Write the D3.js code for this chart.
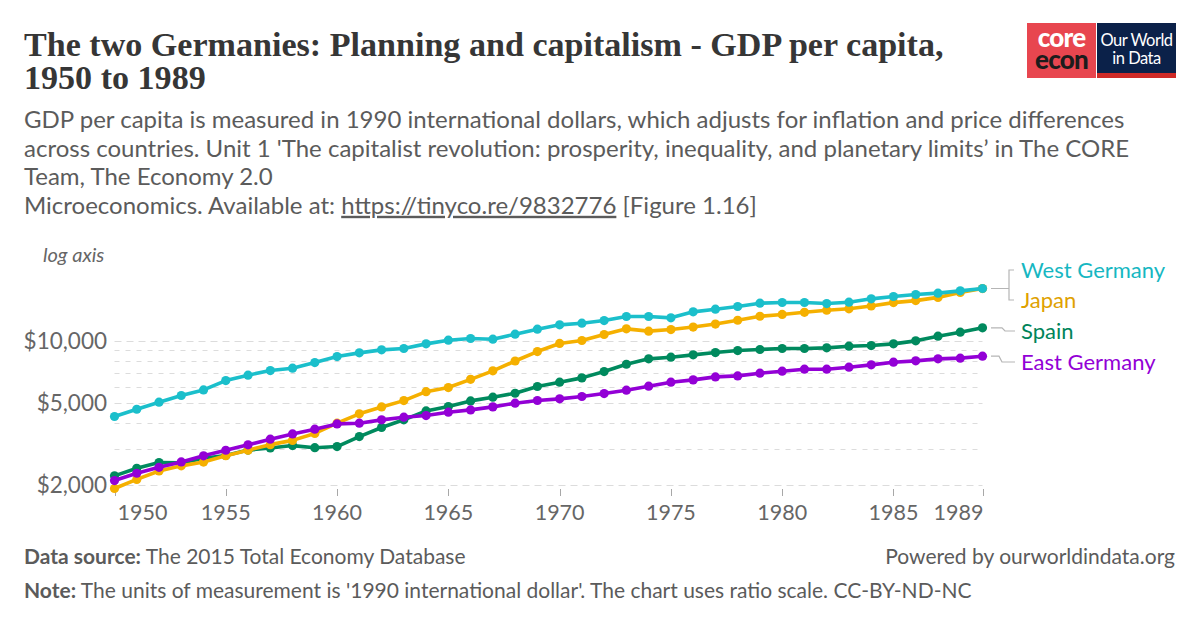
<!DOCTYPE html>
<html>
<head>
<meta charset="utf-8">
<script src="https://cdn.jsdelivr.net/npm/d3@7"></script>
<style>
  body { margin: 0; background: #fff; }
  svg { display: block; font-family: Lato, "Noto Sans", sans-serif; }
</style>
</head>
<body>
<svg id="chart" width="1200" height="627"></svg>
<script>
// years shown on the chart
const years = d3.range(1950, 1990);

// GDP per capita, 1990 int. dollars
const westGermany = [4295, 4658, 5038, 5429, 5781, 6418, 6814, 7178, 7367, 7847,
  8390, 8744, 9044, 9179, 9669, 10075, 10264, 10188, 10774, 11394,
  11958, 12180, 12549, 13127, 13127, 12932, 13828, 14245, 14676, 15232,
  15346, 15346, 15174, 15405, 15991, 16414, 16786, 17039, 17486, 17949];
const japan = [1921, 2126, 2336, 2474, 2582, 2771, 2948, 3136, 3289, 3554,
  3986, 4426, 4777, 5129, 5668, 5934, 6506, 7152, 7983, 8874,
  9714, 10040, 10734, 11434, 11145, 11344, 11669, 12064, 12585, 13163,
  13428, 13754, 14078, 14307, 14773, 15331, 15679, 16251, 17185, 17943];
const spain = [2213, 2409, 2567, 2560, 2690, 2780, 2950, 3020, 3103, 3030,
  3070, 3432, 3797, 4138, 4572, 4800, 5113, 5328, 5570, 6003,
  6300, 6612, 7097, 7700, 8177, 8332, 8551, 8777, 8975, 9078,
  9180, 9180, 9248, 9422, 9491, 9669, 10000, 10536, 11017, 11565];
const eastGermany = [2099, 2278, 2435, 2585, 2767, 2945, 3129, 3333, 3536, 3726,
  3954, 3985, 4136, 4261, 4341, 4506, 4624, 4782, 4983, 5134,
  5230, 5369, 5551, 5762, 6025, 6300, 6466, 6686, 6761, 6967,
  7125, 7286, 7286, 7451, 7647, 7878, 7998, 8177, 8241, 8427];

const seriesNames = ["West Germany", "Japan", "Spain", "East Germany"];
const seriesValues = [westGermany, japan, spain, eastGermany];
const lineColors = ["#1bbfcb", "#f5b000", "#008a5e", "#9300d6"];
const labelColors = ["#16b7c2", "#dfa100", "#00845a", "#9300d6"];

const xTicks = [1950, 1955, 1960, 1965, 1970, 1975, 1980, 1985, 1989];
const yTicks = [2000, 5000, 10000];
const yGrid = [2000, 3000, 4000, 5000, 6000, 7000, 8000, 9000, 10000];

const series = seriesNames.map((name, i) => ({
  name,
  color: lineColors[i],
  labelColor: labelColors[i],
  values: years.map((y, j) => ({ year: y, value: seriesValues[i][j] }))
}));

const svg = d3.select("#chart");

// ---- header
const title = svg.append("text")
  .style("font-family", "'Liberation Serif', 'DejaVu Serif', serif")
  .attr("font-weight", 700)
  .attr("font-size", 31)
  .attr("fill", "#363636");
const t1 = title.append("tspan").attr("x", 24).attr("y", 56)
  .text("The two Germanies: Planning and capitalism - GDP per capita,");
title.append("tspan").attr("x", 24).attr("y", 89)
  .text("1950 to 1989");
// the reference uses a wider display serif: stretch to the same width
const tw = t1.node().getComputedTextLength();
title.attr("font-size", 31 * 920 / tw);

const subLines = [
  "GDP per capita is measured in 1990 international dollars, which adjusts for inflation and price differences",
  "across countries. Unit 1 'The capitalist revolution: prosperity, inequality, and planetary limits’ in The CORE",
  "Team, The Economy 2.0"
];
const sub = svg.append("g").attr("fill", "#5b5b5b").attr("font-size", 24);
subLines.forEach((t, i) => {
  sub.append("text").attr("x", 24).attr("y", 128 + i * 28.6).text(t);
});
const lastSub = sub.append("text").attr("x", 24).attr("y", 128 + 3 * 28.6);
lastSub.append("tspan").text("Microeconomics. Available at: ");
lastSub.append("tspan").style("text-decoration", "underline").text("https://tinyco.re/9832776");
lastSub.append("tspan").text(" [Figure 1.16]");

// ---- logo
const logo = svg.append("g").attr("transform", "translate(1027,23)");
logo.append("rect").attr("width", 69).attr("height", 55).attr("fill", "#e8464f");
logo.append("rect").attr("x", 70).attr("width", 79).attr("height", 55).attr("fill", "#0b2149");
logo.append("rect").attr("x", 70).attr("y", 50).attr("width", 79).attr("height", 5).attr("fill", "#cf2a27");
logo.append("text").attr("x", 34.5).attr("y", 24).attr("text-anchor", "middle")
  .attr("font-size", 26).attr("font-weight", 900).attr("fill", "#fff")
  .attr("letter-spacing", -0.8).text("core");
logo.append("text").attr("x", 34.5).attr("y", 46).attr("text-anchor", "middle")
  .attr("font-size", 26).attr("font-weight", 900).attr("fill", "#1c1c1c")
  .attr("letter-spacing", -0.8).text("econ");
logo.append("text").attr("x", 109.5).attr("y", 23).attr("text-anchor", "middle")
  .attr("font-size", 16.5).attr("fill", "#fff").attr("letter-spacing", -0.5).text("Our World");
logo.append("text").attr("x", 109.5).attr("y", 41).attr("text-anchor", "middle")
  .attr("font-size", 16.5).attr("fill", "#fff").attr("letter-spacing", -0.5).text("in Data");

// ---- chart area
const x = d3.scaleLinear().domain([1950, 1989]).range([114.5, 982.5]);
const allValues = seriesValues.flat();
const y = d3.scaleLog().domain(d3.extent(allValues)).range([488.5, 288.5]);

svg.append("text")
  .attr("x", 43).attr("y", 262)
  .attr("font-size", 20).attr("font-style", "italic").attr("fill", "#666")
  .text("log axis");

svg.append("g")
  .selectAll("line")
  .data(yGrid)
  .join("line")
  .attr("x1", 114.5).attr("x2", 982.5)
  .attr("y1", d => Math.round(y(d)) + 0.5).attr("y2", d => Math.round(y(d)) + 0.5)
  .attr("stroke", "#dcdcdc")
  .attr("stroke-dasharray", d => yTicks.includes(d) ? "7,5" : "5,6");

svg.append("g")
  .selectAll("text")
  .data(yTicks)
  .join("text")
  .attr("x", 107).attr("y", d => y(d) + 8)
  .attr("text-anchor", "end").attr("font-size", 22.5).attr("fill", "#666")
  .text(d => "$" + d3.format(",")(d));

const xAxis = svg.append("g");
xAxis.selectAll("line")
  .data(xTicks)
  .join("line")
  .attr("x1", d => Math.round(x(d)) + 0.5).attr("x2", d => Math.round(x(d)) + 0.5)
  .attr("y1", 489).attr("y2", 496)
  .attr("stroke", "#a8a8a8");
xAxis.selectAll("text")
  .data(xTicks)
  .join("text")
  .attr("x", (d, i) => i === 0 ? x(d) + 3 : i === xTicks.length - 1 ? x(d) + 1 : x(d))
  .attr("y", 520)
  .attr("text-anchor", (d, i) => i === 0 ? "start" : i === xTicks.length - 1 ? "end" : "middle")
  .attr("font-size", 21.5).attr("fill", "#666")
  .text(d => d);

// ---- lines (drawn bottom-up so West Germany is on top)
const line = d3.line().x(d => x(d.year)).y(d => y(d.value));
const drawOrder = [2, 1, 3, 0].map(i => series[i]);

const g = svg.append("g");
drawOrder.forEach(s => {
  const sg = g.append("g");
  sg.append("path")
    .datum(s.values)
    .attr("d", line)
    .attr("fill", "none")
    .attr("stroke", s.color)
    .attr("stroke-width", 3.6)
    .attr("stroke-linejoin", "round");
  sg.selectAll("circle")
    .data(s.values)
    .join("circle")
    .attr("cx", d => x(d.year)).attr("cy", d => y(d.value))
    .attr("r", 4.6)
    .attr("fill", s.color);
});

// ---- end labels with connectors
const labelY = [270, 300, 331, 362];
const lab = svg.append("g");
series.forEach((s, i) => {
  lab.append("text")
    .attr("x", 1021).attr("y", labelY[i] + 7.5)
    .attr("font-size", 22).attr("fill", s.labelColor)
    .text(s.name);
});
const endY = series.map(s => y(s.values[s.values.length - 1].value));
const conn = lab.append("g").attr("fill", "none").attr("stroke", "#b5b5b5").attr("stroke-width", 1.2);
// bracket for West Germany & Japan (ends overlap)
const wgY = (endY[0] + endY[1]) / 2;
conn.append("path").attr("d", `M991,${wgY}H1009M1014,${labelY[0]}H1009V${labelY[1]}H1014`);
conn.append("path").attr("d", `M991,${endY[2]}H1002L1005,${labelY[2]}H1015`);
conn.append("path").attr("d", `M991,${endY[3]}H999L1002,${labelY[3]}H1015`);

// ---- footer
const foot = svg.append("g").attr("font-size", 21).attr("fill", "#5b5b5b");
const src = foot.append("text").attr("x", 24).attr("y", 564);
src.append("tspan").attr("font-weight", 700).text("Data source:");
src.append("tspan").text(" The 2015 Total Economy Database");
foot.append("text").attr("x", 1175).attr("y", 564).attr("text-anchor", "end")
  .text("Powered by ourworldindata.org");
const note = foot.append("text").attr("x", 24).attr("y", 598);
note.append("tspan").attr("font-weight", 700).text("Note:");
note.append("tspan").text(" The units of measurement is '1990 international dollar'. The chart uses ratio scale. CC-BY-ND-NC");
</script>
</body>
</html>
